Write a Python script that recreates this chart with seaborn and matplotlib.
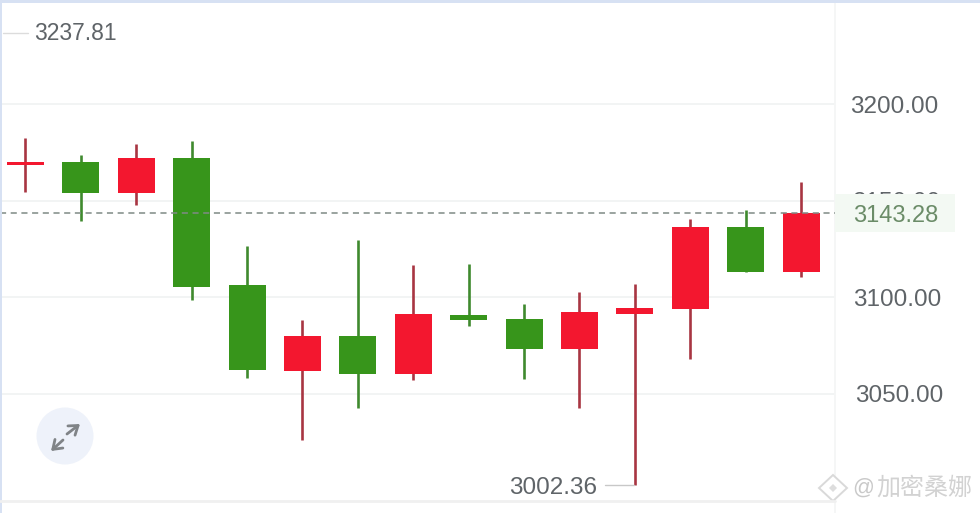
import matplotlib
matplotlib.use("Agg")
import matplotlib.pyplot as plt
from matplotlib.patches import Circle, Rectangle, Polygon
import pandas as pd
import seaborn as sns

# --- data ---
session = list(range(15))
high = [3182.4, 3173.6, 3179.3, 3180.8, 3126.4, 3088.1, 3129.5, 3116.6, 3117.1, 3096.4, 3102.6, 3106.7, 3140.4, 3145.1, 3159.6]
body_top = [3169.9, 3169.9, 3172.0, 3172.0, 3106.2, 3079.8, 3079.8, 3091.2, 3090.7, 3088.6, 3092.2, 3094.3, 3136.3, 3136.3, 3143.28]
body_bottom = [3168.4, 3153.9, 3153.9, 3105.2, 3062.2, 3061.7, 3060.1, 3060.1, 3088.1, 3073.1, 3073.1, 3091.2, 3093.8, 3113.0, 3113.0]
low = [3154.4, 3139.4, 3147.7, 3098.4, 3058.0, 3025.9, 3042.5, 3057.0, 3085.0, 3057.5, 3042.5, 3002.36, 3067.9, 3113.0, 3110.4]
direction = ["red", "green", "red", "green", "green", "red", "green", "red", "green", "green", "red", "red", "red", "green", "red"]
axis_ticks = [3050, 3100, 3150, 3200]
axis_labels = ["3050.00", "3100.00", "3150.00", "3200.00"]
label_px = [899, 897, 896, 894]
last_price = 3143.28
max_price = 3237.81
min_price = 3002.36

RED, GREEN = "#f3172f", "#37951b"
WICK = {"red": "#a83542", "green": "#3f8a2e"}
GREY = "#5f6468"

df = pd.DataFrame({"session": session, "high": high, "top": body_top,
                   "bottom": body_bottom, "low": low, "dir": direction})
df["height"] = df["top"] - df["bottom"]

sns.set_theme(style="white")
plt.rcParams["font.family"] = ["Liberation Sans", "DejaVu Sans"]

W, H = 980, 513
XMIN, XMAX = -0.46, 17.23
YMIN, YMAX = 2988.1, 3253.9
fig = plt.figure(figsize=(W / 100, H / 100), dpi=100, facecolor="white")
ax = fig.add_axes([0, 0, 1, 1])

# pixel-space overlay for interface furniture
ui = fig.add_axes([0, 0, 1, 1], facecolor="none")
ui.set_xlim(0, W)
ui.set_ylim(H, 0)
ui.axis("off")
ui.set_zorder(ax.get_zorder() + 1)

def x_from_px(px):
    return XMIN + px / W * (XMAX - XMIN)

axis_x = x_from_px(835)
ax.hlines(axis_ticks, XMIN, axis_x, color="#f1f3f3", lw=1.3, zorder=1)
ax.vlines(axis_x, YMIN, YMAX, color="#f5f6f6", lw=1.3, zorder=1)
ui.plot([0, 835], [501, 501], color="#f0f0f0", lw=2)

for t, lab, px in zip(axis_ticks, axis_labels, label_px):
    ax.text(x_from_px(px), t, lab, ha="center", va="center_baseline", fontsize=17.5,
            color=GREY, zorder=2)

# wicks
for d in ("green", "red"):
    s = df[df["dir"] == d]
    ax.vlines(s["session"], s["low"], s["high"], color=WICK[d], lw=1.9, zorder=3)

# bodies
for d, c in (("green", GREEN), ("red", RED)):
    s = df[df["dir"] == d]
    sns.barplot(data=s, x="session", y="height", bottom=s["bottom"].values,
                native_scale=True, width=0.67, color=c, saturation=1,
                errorbar=None, linewidth=0, ax=ax, zorder=4)
ax.set_xlim(XMIN, XMAX)
ax.set_ylim(YMIN, YMAX)
ax.axis("off")

# last price
ax.add_patch(Rectangle((axis_x, last_price - 9.7), x_from_px(955) - axis_x, 20.0,
                       facecolor="#f3f9f3", edgecolor="none", zorder=2.5))
ax.hlines(last_price, XMIN, axis_x, color="#7f8a85", lw=1.1, linestyles=(0, (4, 3)), zorder=5)
ax.text(x_from_px(896), last_price, f"{last_price:.2f}", ha="center", va="center_baseline",
        fontsize=17, color="#6b8c68", zorder=6)

# max / min labels
ax.text(x_from_px(34), max_price, f"{max_price:.2f}", ha="left", va="center_baseline",
        fontsize=16.5, color=GREY, zorder=6)
ui.plot([3, 28], [33, 33], color="#dcdcdc", lw=1)
ax.text(x_from_px(509), min_price, f"{min_price:.2f}", ha="left", va="center_baseline",
        fontsize=17.5, color=GREY, zorder=6)
ui.plot([605, 634], [485, 485], color="#c8c8c8", lw=1)

# expand button
ui.add_patch(Circle((65, 436), 28.5, facecolor="#eef2fa", edgecolor="none"))
for (x0, y0, x1, y1) in [(67, 434, 80, 424), (63, 440, 51, 451)]:
    ui.annotate("", xy=(x1, y1), xytext=(x0, y0),
                arrowprops=dict(arrowstyle="->,head_length=0.5,head_width=0.35",
                                color="#808487", lw=2, shrinkA=0, shrinkB=0))

# frame edge
ui.add_patch(Rectangle((0, 0), W, 3, facecolor="#d7e1f3", edgecolor="none"))
ui.add_patch(Rectangle((0, 0), 1.5, H, facecolor="#d7e1f3", edgecolor="none"))

# watermark
ui.add_patch(Polygon([(833, 475), (847, 488), (833, 501), (819, 488)], closed=True,
                     facecolor="white", edgecolor="#d9d9d9", lw=1.4))
ui.add_patch(Polygon([(833, 484), (837, 488), (833, 492), (829, 488)], closed=True,
                     facecolor="#dddddd", edgecolor="none"))
ui.text(852, 488, "@", ha="left", va="center", fontsize=15.5, color="#c9c9c9")
ui.text(876, 488, "加密桑娜", ha="left", va="center", fontsize=17.3, color="#d2d2d2",
        family=["Noto Sans CJK SC", "DejaVu Sans"])

fig.savefig("out.png", dpi=100)
